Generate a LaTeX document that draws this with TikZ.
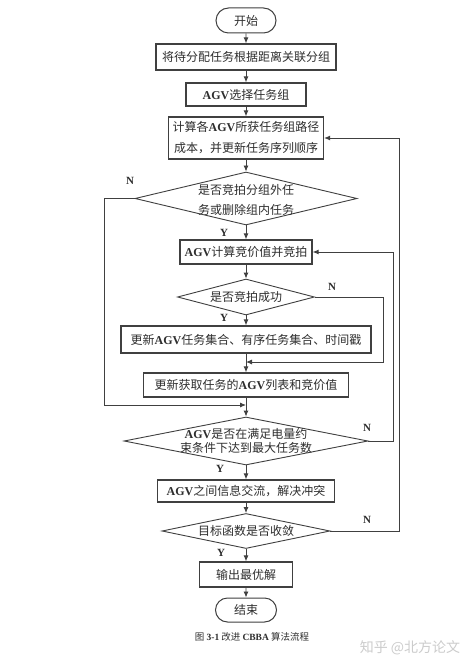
\documentclass[tikz,border=0pt]{standalone}
\usepackage{fontspec}
\setmainfont{Liberation Serif}
\newfontfamily\cjk{Noto Sans CJK SC}
\usetikzlibrary{shapes.geometric,shapes.misc,arrows.meta}
\newlength{\du}
\setlength{\du}{1pt}
\newcommand{\agv}{{\rmfamily\bfseries AGV}}
\definecolor{dialinecolor}{rgb}{0.250000, 0.250000, 0.250000}
\definecolor{diatextcolor}{rgb}{0.180000, 0.180000, 0.180000}
\definecolor{diamarkcolor}{rgb}{0.800000, 0.800000, 0.800000}
\tikzset{
  procbox/.style={draw=dialinecolor, line width=1.2pt, rectangle, inner sep=0pt,
    text=diatextcolor, align=center, font=\cjk\fontsize{12}{14}\selectfont},
  termbox/.style={procbox, rounded rectangle, line width=1pt},
  decision/.style={draw=dialinecolor, line width=0.9pt, diamond, inner sep=0pt},
  decisiontext/.style={text=diatextcolor, align=center, inner sep=0pt},
  flowline/.style={draw=dialinecolor, line width=0.9pt, -{Latex[length=6pt,width=5pt]}},
  branchlabel/.style={text=diatextcolor, inner sep=0pt, font=\rmfamily\bfseries\fontsize{11}{13}\selectfont}
}

\begin{document}
\begin{tikzpicture}
\pgftransformxscale{1.000000}
\pgftransformyscale{-1.000000}
\fill[white] (0\du,0\du) rectangle (474\du,668\du);
\useasboundingbox (0\du,0\du) rectangle (474\du,668\du);
% boxes
\node[termbox, minimum width=60\du, minimum height=25\du] (start) at (246\du,20.5\du) {开始};
\node[procbox, minimum width=180\du, minimum height=26\du] (group) at (246\du,57\du) {将待分配任务根据距离关联分组};
\node[procbox, minimum width=120\du, minimum height=23\du] (select) at (246\du,94.5\du) {\agv 选择任务组};
\node[procbox, minimum width=155\du, minimum height=42\du, font=\cjk\fontsize{12}{21}\selectfont] (cost) at (246\du,138\du) {计算各\agv 所获任务组路径\\成本，并更新任务序列顺序};
\node[decision, minimum width=222\du, minimum height=53\du] (regroup) at (246\du,198.5\du) {};
\node[decisiontext, font=\cjk\fontsize{12}{20}\selectfont] (regrouptext) at (246\du,200\du) {是否竞拍分组外任\\务或删除组内任务};
\node[procbox, minimum width=132\du, minimum height=24\du] (bid) at (246\du,252\du) {\agv 计算竞价值并竞拍};
\node[decision, minimum width=137\du, minimum height=36\du] (won) at (246\du,297\du) {};
\node[decisiontext, font=\cjk\fontsize{12}{14}\selectfont] (wontext) at (won.center) {是否竞拍成功};
\node[procbox, minimum width=250\du, minimum height=27\du] (update) at (246\du,339.5\du) {更新\agv 任务集合、有序任务集合、时间戳};
\node[procbox, minimum width=205\du, minimum height=24\du] (refresh) at (246\du,385\du) {更新获取任务的\agv 列表和竞价值};
\node[decision, minimum width=244\du, minimum height=48\du] (full) at (246\du,441\du) {};
\node[decisiontext, font=\cjk\fontsize{12}{14}\selectfont] (fulltext) at (full.center) {\agv 是否在满足电量约\\束条件下达到最大任务数};
\node[procbox, minimum width=177\du, minimum height=22\du] (exchange) at (246\du,491\du) {\agv 之间信息交流，解决冲突};
\node[decision, minimum width=168\du, minimum height=35\du] (converge) at (246\du,531\du) {};
\node[decisiontext, font=\cjk\fontsize{12}{14}\selectfont] (convergetext) at (converge.center) {目标函数是否收敛};
\node[procbox, minimum width=93\du, minimum height=25\du] (output) at (246\du,574.5\du) {输出最优解};
\node[termbox, minimum width=61\du, minimum height=24\du] (finish) at (246\du,610\du) {结束};
% rails
\coordinate (skipturn) at (104\du,405\du);
\coordinate (skipjoin) at (246\du,405\du);
\coordinate (failturn) at (383\du,362\du);
\coordinate (failjoin) at (246\du,362\du);
\coordinate (retryrail) at (393\du,441\du);
\coordinate (looprail) at (399\du,531\du);
% connectors
\draw[flowline] (start) -- (group);
\draw[flowline] (group) -- (select);
\draw[flowline] (select) -- (cost);
\draw[flowline] (cost) -- (regroup);
\draw[flowline] (regroup) -- (bid);
\draw[flowline] (bid) -- (won);
\draw[flowline] (won) -- (update);
\draw[flowline] (update) -- (refresh);
\draw[flowline] (refresh) -- (full);
\draw[flowline] (full) -- (exchange);
\draw[flowline] (exchange) -- (converge);
\draw[flowline] (converge) -- (output);
\draw[flowline] (output) -- (finish);
\draw[flowline] (regroup.west) -| (skipturn) -- (skipjoin);
\draw[flowline] (won.east) -| (failturn) -- (failjoin);
\draw[flowline] (full.east) -- (retryrail) |- (bid.east);
\draw[flowline] (converge.east) -- (looprail) |- (cost.east);
% branch labels
\node[branchlabel] (regroupno) at (130\du,181\du) {N};
\node[branchlabel] (regroupyes) at (224\du,233\du) {Y};
\node[branchlabel] (wonno) at (332\du,287\du) {N};
\node[branchlabel] (wonyes) at (224\du,318\du) {Y};
\node[branchlabel] (fullno) at (367\du,428\du) {N};
\node[branchlabel] (fullyes) at (220\du,469\du) {Y};
\node[branchlabel] (convergeno) at (367\du,520\du) {N};
\node[branchlabel] (convergeyes) at (221\du,553\du) {Y};
% caption
\node[text=diatextcolor, font=\cjk\fontsize{9.5}{11}\selectfont] (caption) at (252\du,637\du) {图\ {\rmfamily\bfseries 3-1}\ 改进\ {\rmfamily\bfseries CBBA}\ 算法流程};
\node[text=diamarkcolor, font=\cjk\fontsize{14}{16}\selectfont] (mark) at (410\du,648\du) {知乎 @北方论文};
\end{tikzpicture}
\end{document}
